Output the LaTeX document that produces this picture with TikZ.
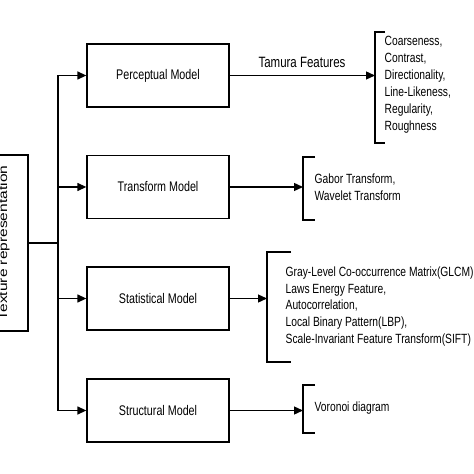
\documentclass[tikz,border=0pt]{standalone}
\usepackage{fontspec}
\setmainfont[FakeStretch=0.77]{Liberation Sans}
\newfontfamily\uprightfont{Liberation Sans}
\usetikzlibrary{arrows.meta}

\begin{document}
\begin{tikzpicture}[x=1bp,y=-1bp,line width=1.3bp,
    model/.style={rectangle,draw,minimum width=142bp,minimum height=63bp,font=\fontsize{14}{16}\selectfont},
    feat/.style={anchor=west,align=left,inner sep=0pt,font=\fontsize{13.4}{17}\selectfont},
    link/.style={-{Triangle[length=9bp,width=8bp]}}]
    \tikzstyle{every node}=[inner sep=2pt]
    \useasboundingbox (0,0) rectangle (474,474);
    \node[draw,rotate=90,minimum width=176bp,minimum height=48bp,
      font=\fontsize{15.6}{18}\uprightfont] (tex) at (4,243)
      {\scalebox{1}[0.77]{Texture representation}};
    \node[model] (per) at (158,75.5) {Perceptual Model};  %M1
    \node[model] (tra) at (158,187) {Transform Model};    %M2
    \node[model] (sta) at (158,298.5) {Statistical Model};%M3
    \node[model] (str) at (158,410.5) {Structural Model}; %M4
    \coordinate (trunk) at (58,243);
    \draw (tex.south) -- (tex.south -| trunk);
    \draw (trunk |- per.west) -- (trunk |- str.west);
    \foreach \m in {per,tra,sta,str}
      \draw[link] (trunk |- \m.west) -- (\m.west);
    % brackets
    \coordinate (b1t) at (375,32);  \coordinate (b1b) at (375,143);
    \coordinate (b2t) at (303,157); \coordinate (b2b) at (303,220);
    \coordinate (b3t) at (267,252); \coordinate (b3b) at (267,362);
    \coordinate (b4t) at (303,385); \coordinate (b4b) at (303,433);
    \draw ([xshift=10bp]b1t) -- (b1t) -- (b1b) -- ([xshift=10bp]b1b);
    \draw ([xshift=12bp]b2t) -- (b2t) -- (b2b) -- ([xshift=12bp]b2b);
    \draw ([xshift=24bp]b3t) -- (b3t) -- (b3b) -- ([xshift=24bp]b3b);
    \draw ([xshift=12bp]b4t) -- (b4t) -- (b4b) -- ([xshift=12bp]b4b);
    \draw[link] (per.east) -- (per.east -| b1t);
    \draw[link] (tra.east) -- (tra.east -| b2t);
    \draw[link] (sta.east) -- (sta.east -| b3t);
    \draw[link] (str.east) -- (str.east -| b4t);
    \node[font=\fontsize{15}{17}\selectfont] (tam) at (302,62) {Tamura Features};
    \node[feat] (f1) at (384,85) {Coarseness,\\Contrast,\\Directionality,\\Line-Likeness,\\Regularity,\\Roughness};
    \node[feat] (f2) at (314,187) {Gabor Transform,\\Wavelet Transform};
    \node[feat] (f3) at (285,306.5) {Gray-Level Co-occurrence Matrix(GLCM),\\Laws Energy Feature,\\Autocorrelation,\\Local Binary Pattern(LBP),\\Scale-Invariant Feature Transform(SIFT)};
    \node[feat] (f4) at (314,408) {Voronoi diagram};
\end{tikzpicture}
\end{document}
